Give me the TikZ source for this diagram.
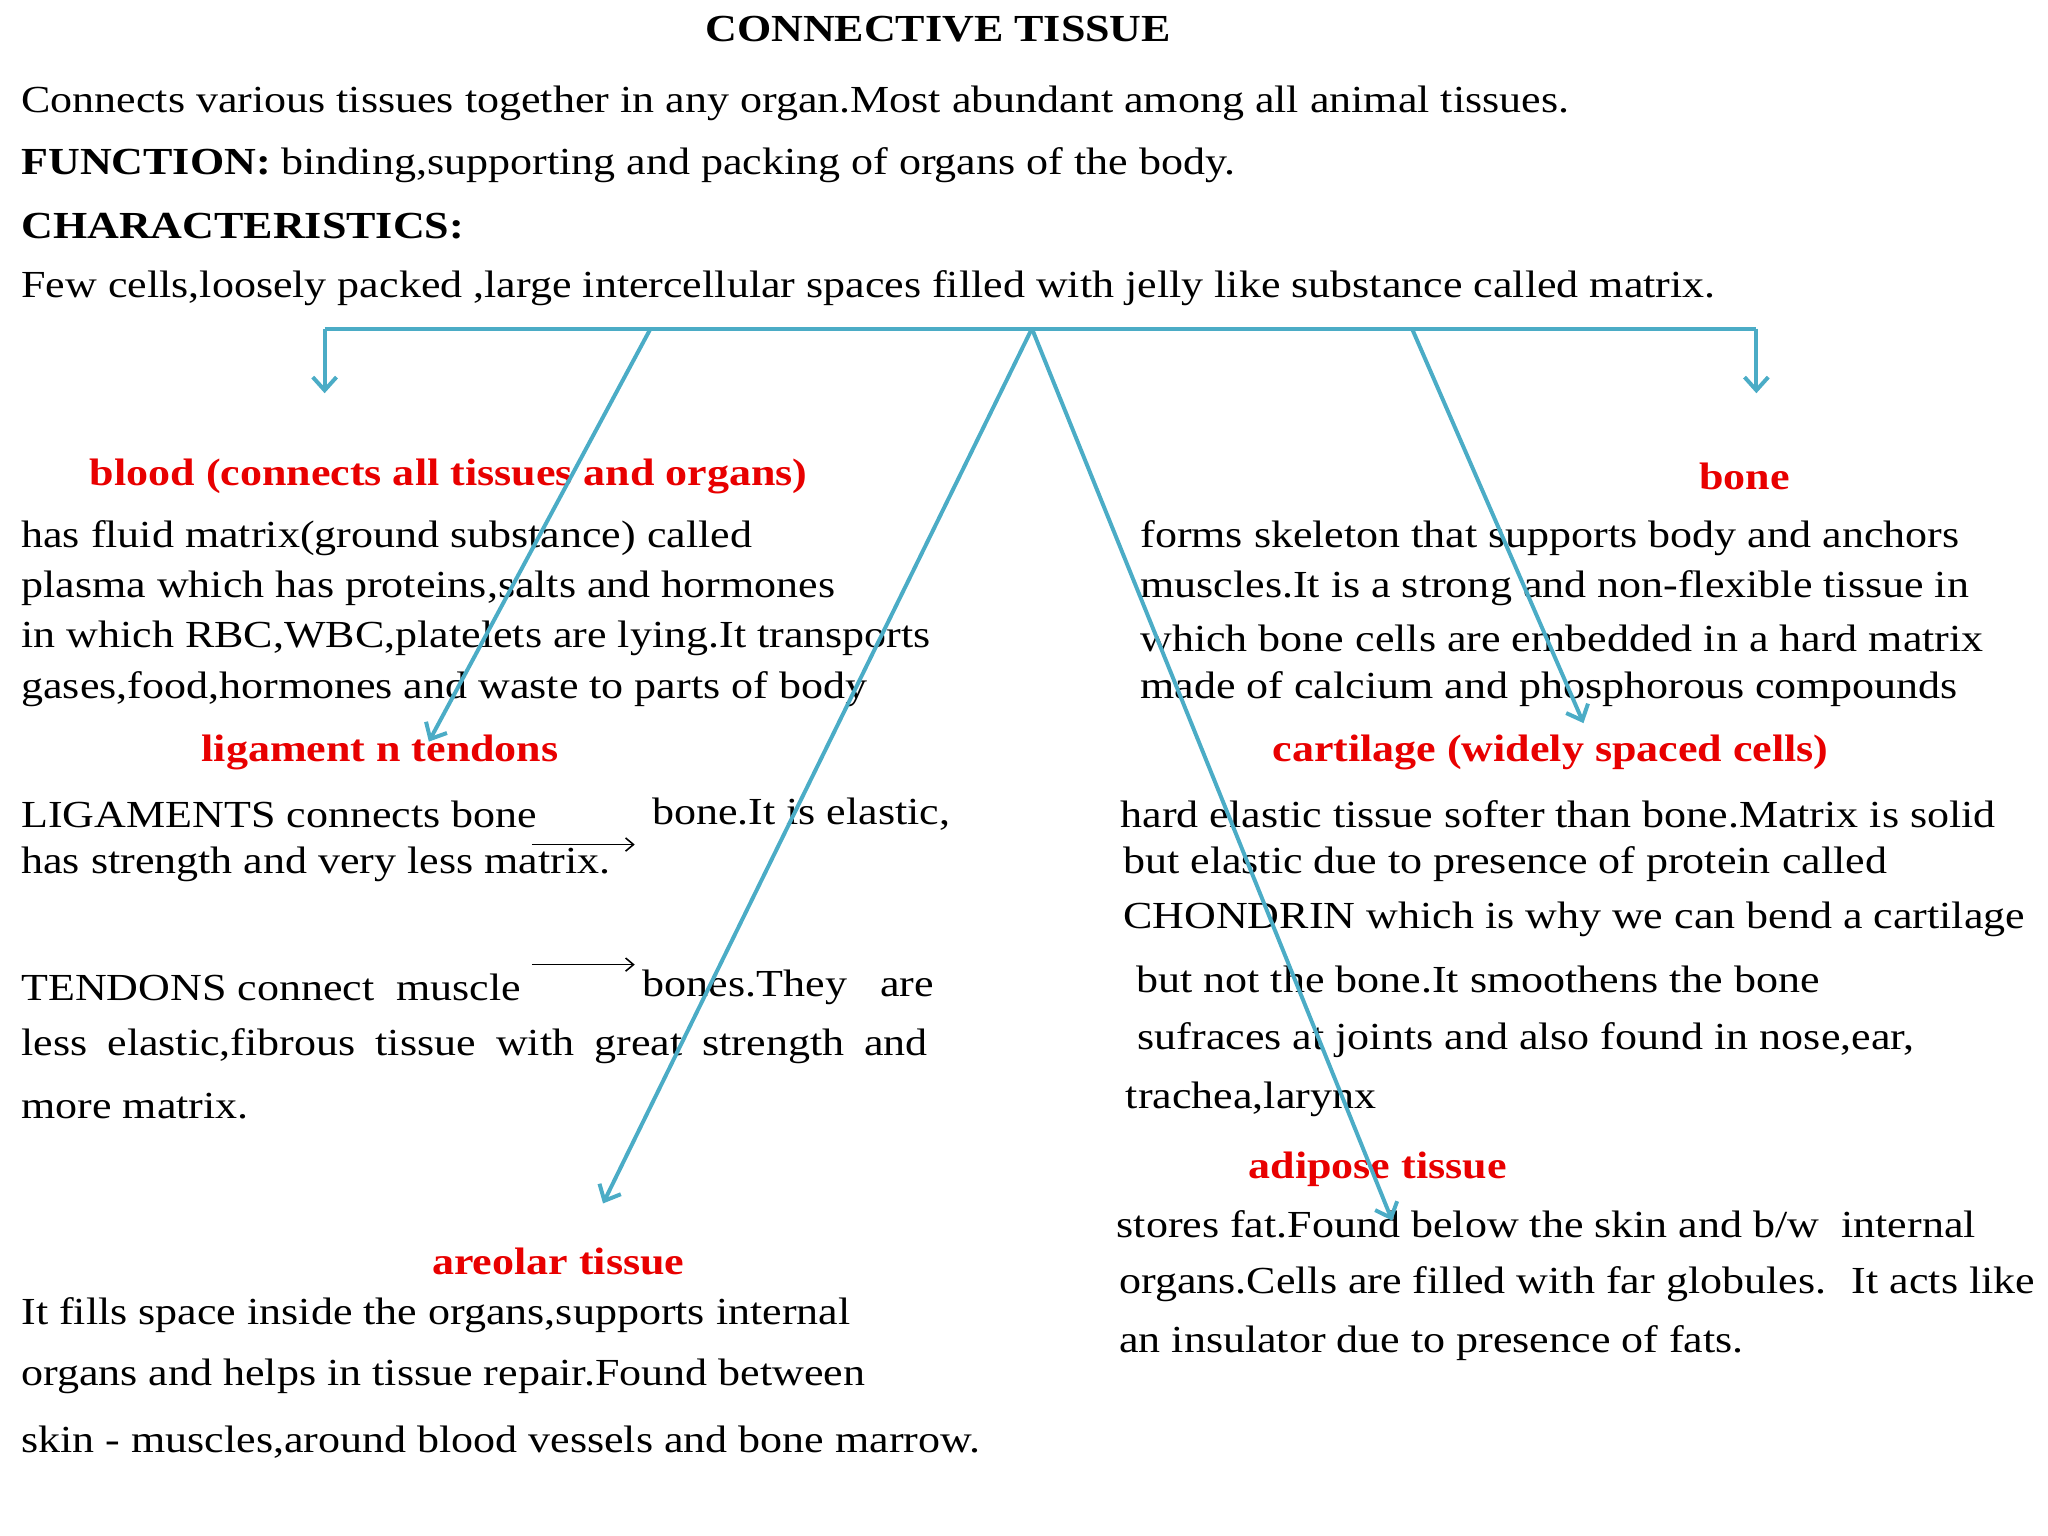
\documentclass[tikz,border=0pt]{standalone}
\usepackage{fontspec}
\setmainfont[FakeStretch=1.15]{Liberation Serif}
\usetikzlibrary{arrows.meta}
\definecolor{teal1}{HTML}{4BACC6}
\definecolor{red1}{HTML}{E80000}
\begin{document}
\begin{tikzpicture}[x=1pt,y=-1pt,
  txt/.style={anchor=west,inner sep=0pt,font=\fontsize{29}{31}\selectfont},
  hd/.style={inner sep=0pt,font=\fontsize{29}{31}\selectfont\bfseries,text=red1},
  con/.style={draw=teal1,line width=3pt,-{Straight Barb[length=10pt,width=18pt,line width=3pt]}},
  thin/.style={draw=black,line width=1.2pt,-{Straight Barb[length=6pt,width=10pt]}}]
\useasboundingbox (0,0) rectangle (1552,1164);
\node[inner sep=0pt,font=\fontsize{29}{31}\selectfont\bfseries] (title) at (711,22) {CONNECTIVE TISSUE};
\node[txt] (l1) at (16,78) {Connects various tissues together in any organ.Most abundant among all animal tissues.};
\node[txt] (l2) at (16,125) {\textbf{FUNCTION:} binding,supporting and packing of organs of the body.};
\node[txt] (l3) at (16,171) {\textbf{CHARACTERISTICS:}};
\node[txt] (l4) at (16,218) {Few cells,loosely packed ,large intercellular spaces filled with jelly like substance called  matrix.};
\node[hd] (hblood) at (340,361) {blood (connects all tissues and organs)};
\node[hd] (hbone) at (1322,361) {bone};
\node[txt] (b1) at (16,408) {has fluid matrix(ground substance) called};
\node[txt] (b2) at (16,446) {plasma which has proteins,salts and hormones};
\node[txt] (b3) at (16,484) {in which RBC,WBC,platelets are lying.It transports};
\node[txt] (b4) at (16,522) {gases,food,hormones and waste to parts of body};
\node[txt] (o1) at (864,408) {forms skeleton that supports body and anchors};
\node[txt] (o2) at (864,446) {muscles.It is a strong and non-flexible tissue in};
\node[txt] (o3) at (864,484) {which bone cells are embedded in a hard matrix};
\node[txt] (o4) at (864,522) {made of calcium and phosphorous compounds};
\node[hd] (hlig) at (288,570) {ligament n tendons};
\node[hd] (hcart) at (1175,570) {cartilage (widely spaced cells)};
\node[txt] (g1) at (16,617) {LIGAMENTS connects bone};
\node[txt] (g1b) at (494,617) {bone.It is elastic,};
\node[txt] (g2) at (16,655) {has strength and very less matrix.};
\node[txt] (t1) at (16,748) {TENDONS connect \ muscle};
\node[txt] (t1b) at (487,748) {bones.They \ \ are};
\node[txt] (t2) at (16,793) {\makebox[687pt][s]{less elastic,fibrous tissue with great strength and}};
\node[txt] (t3) at (16,838) {more matrix.};
\node[txt] (c1) at (849,617) {hard elastic tissue softer than bone.Matrix is solid};
\node[txt] (c2) at (851,655) {but elastic due to presence of protein called};
\node[txt] (c3) at (851,697) {CHONDRIN which is why we can bend a cartilage};
\node[txt] (c4) at (861,742) {but not the bone.It smoothens the bone};
\node[txt] (c5) at (862,788) {sufraces at joints and also found in nose,ear,};
\node[txt] (c6) at (853,833) {trachea,larynx};
\node[hd] (hadi) at (1044,886) {adipose tissue};
\node[txt] (a1) at (846,928) {stores fat.Found below the skin and b/w \ internal};
\node[txt] (a2) at (848,973) {organs.Cells are filled with far globules. \ It acts like};
\node[txt] (a3) at (848,1018) {an insulator due to presence of fats.};
\node[hd] (hareo) at (423,956) {areolar tissue};
\node[txt] (r1) at (16,997) {It fills space inside the organs,supports internal};
\node[txt] (r2) at (16,1043) {organs and helps in tissue repair.Found between};
\node[txt] (r3) at (16,1093) {skin - muscles,around blood vessels and bone marrow.};
% connectors
\coordinate (hl) at (246,249); \coordinate (hr) at (1331,249);
\coordinate (j1) at (493,249); \coordinate (j2) at (782,249); \coordinate (j3) at (1070,249);
\coordinate (e1) at (246,298); \coordinate (e5) at (1331,298);
\coordinate (e2) at (325,562); \coordinate (e3) at (457,912);
\coordinate (e4) at (1055,925); \coordinate (e6) at (1200,548);
\draw[teal1,line width=3pt] (hl) -- (hr);
\draw[con] (hl) -- (e1);
\draw[con] (hr) -- (e5);
\draw[con] (j1) -- (e2);
\draw[con] (j2) -- (e3);
\draw[con] (j2) -- (e4);
\draw[con] (j3) -- (e6);
\coordinate (s1) at (403,640); \coordinate (f1) at (481,640);
\coordinate (s2) at (403,731); \coordinate (f2) at (481,731);
\draw[thin] (s1) -- (f1);
\draw[thin] (s2) -- (f2);
\end{tikzpicture}
\end{document}
